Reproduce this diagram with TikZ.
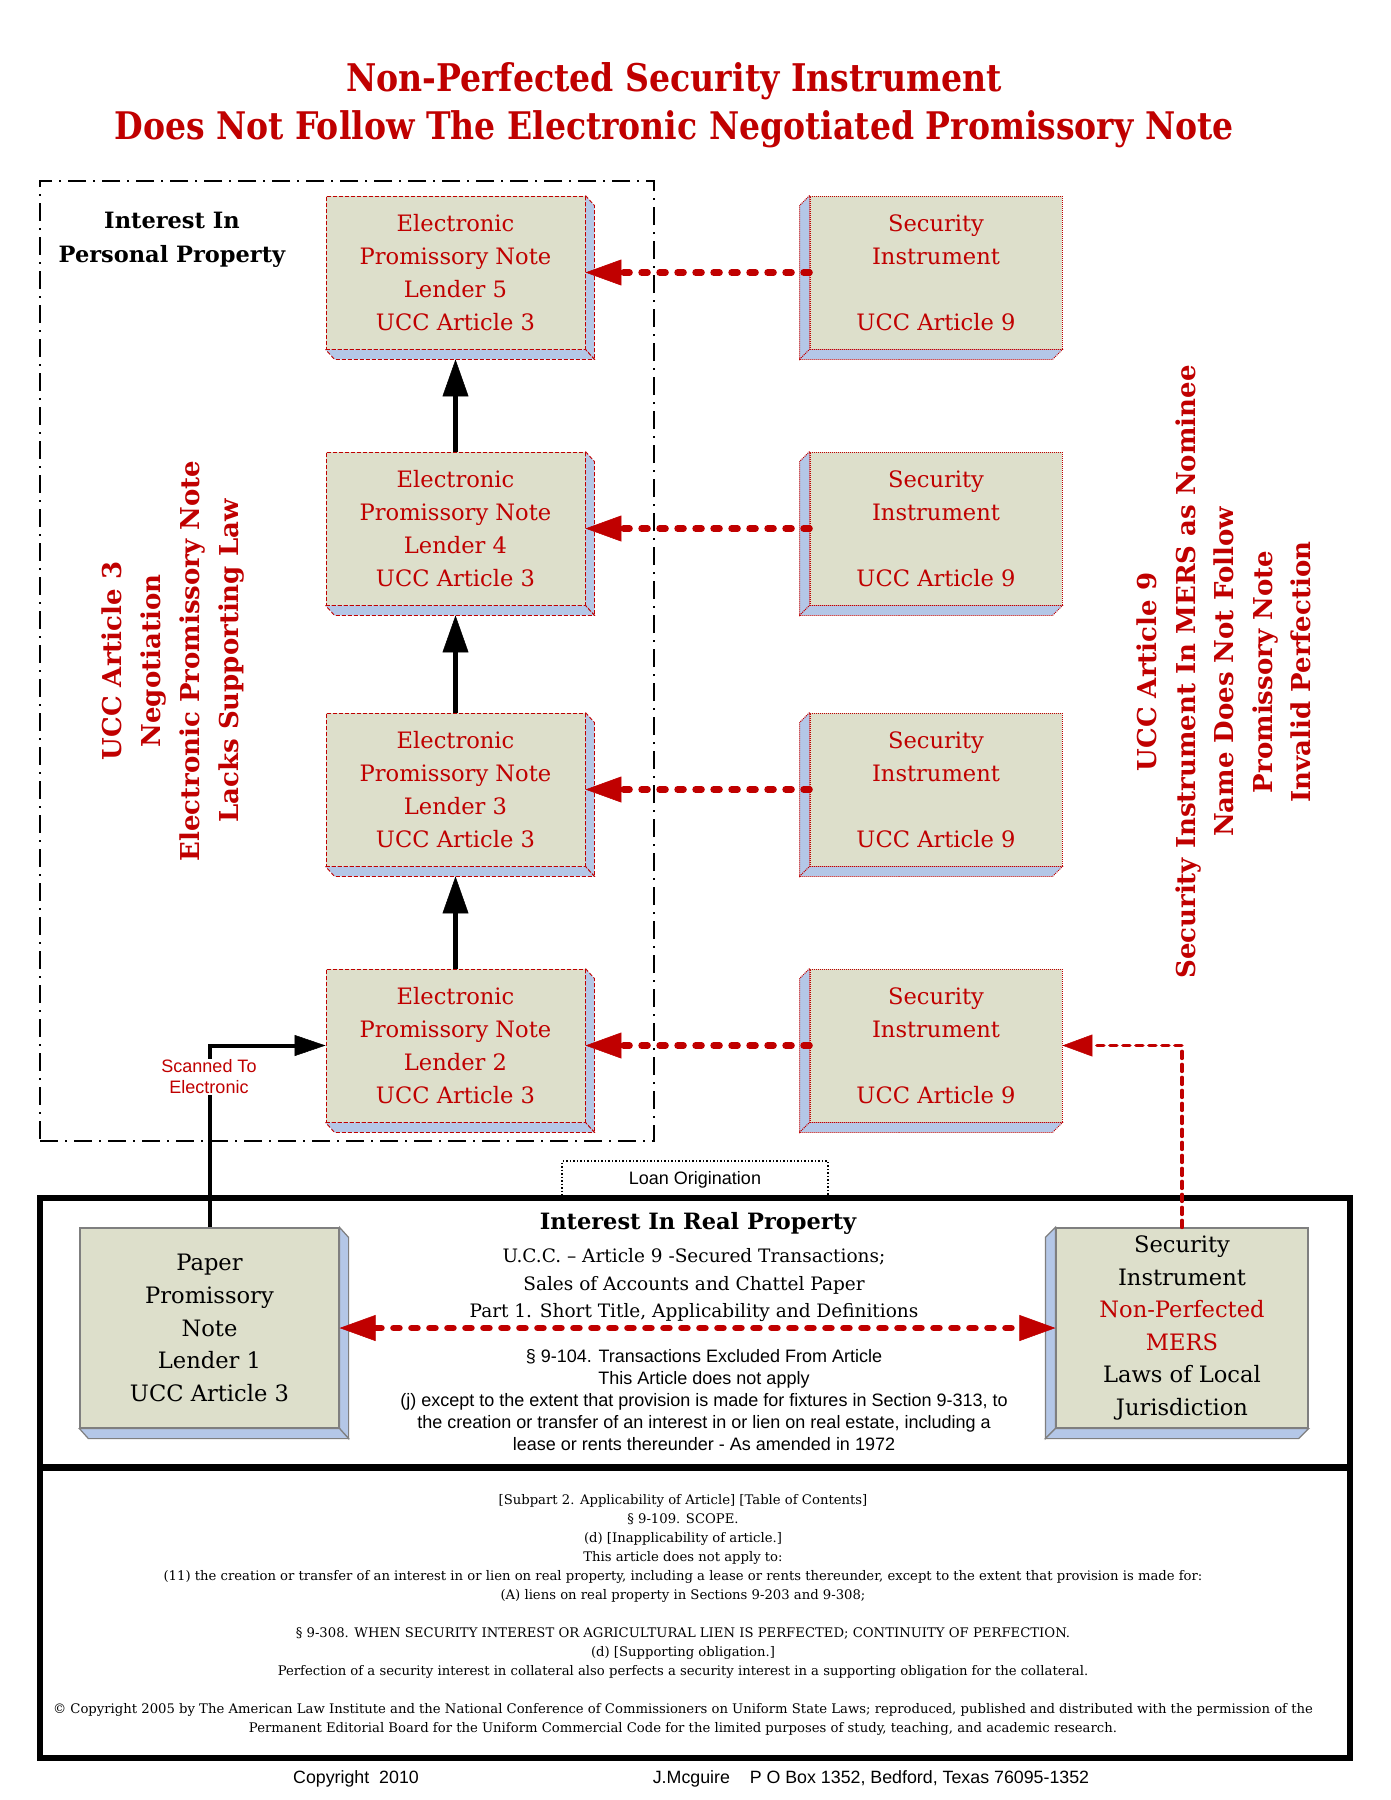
\documentclass[tikz,border=0pt]{standalone}
\usepackage{graphicx}
\usepackage{fontspec}
\setmainfont{DejaVu Serif}
\newfontfamily\sansf{Liberation Sans}
\usetikzlibrary{arrows.meta,calc}
\definecolor{dred}{HTML}{C00000}
\definecolor{boxfill}{HTML}{DDDFCB}
\definecolor{panelblue}{HTML}{B4C7E7}
\definecolor{edgegray}{HTML}{7F7F7F}
\pgfdeclarelayer{bg}
\pgfdeclarelayer{panel}
\pgfsetlayers{bg,panel,main}
\newcommand\fs[2]{\fontsize{#1}{#2}\selectfont}
% 3D side panels: right/bottom (depth +dx) or left/bottom (depth -dx)
\newcommand\panelR[2]{%
  \begin{pgfonlayer}{panel}
    \filldraw[#2] (#1.north east) -- ++(9,10) -- ($(#1.south east)+(9,10)$) -- (#1.south east) -- cycle;
    \filldraw[#2] (#1.south west) -- (#1.south east) -- ++(9,10) -- ($(#1.south west)+(9,10)$) -- cycle;
  \end{pgfonlayer}}
\newcommand\panelL[2]{%
  \begin{pgfonlayer}{panel}
    \filldraw[#2] (#1.north west) -- ++(-10,10) -- ($(#1.south west)+(-10,10)$) -- (#1.south west) -- cycle;
    \filldraw[#2] (#1.south west) -- (#1.south east) -- ++(-10,10) -- ($(#1.south west)+(-10,10)$) -- cycle;
  \end{pgfonlayer}}
\begin{document}
\begin{tikzpicture}[x=1pt,y=-1pt,
  boxtext/.style={font=\fs{22.6}{33}, align=center, inner sep=0pt},
  enote/.style={boxtext, draw=dred, line width=0.9pt, dash pattern=on 4pt off 2pt,
    fill=boxfill, minimum width=259pt, minimum height=153pt, text=dred},
  secbox/.style={boxtext, draw=dred, line width=0.9pt, dash pattern=on 1pt off 1pt,
    fill=boxfill, minimum width=252pt, minimum height=153pt, text=dred},
  epanel/.style={fill=panelblue, draw=dred, line width=0.9pt, dash pattern=on 4pt off 2pt},
  spanel/.style={fill=panelblue, draw=dred, line width=0.9pt, dash pattern=on 1pt off 1pt},
  realnote/.style={font=\fs{22.6}{32.6}, align=center, inner sep=0pt, draw=edgegray,
    line width=1.2pt, fill=boxfill, minimum height=200pt, text=black},
  rpanel/.style={fill=panelblue, draw=edgegray, line width=1.2pt},
  reddot/.style={draw=dred, line width=6.5pt, line cap=round, dash pattern=on 6pt off 12pt},
  redhead/.style={-{Triangle[length=36pt,width=26pt,line width=0.5pt]}},
  blackarrow/.style={draw=black, line width=4.5pt, -{Triangle[length=37pt,width=26pt,line width=0.5pt]}},
  scanarrow/.style={draw=black, line width=4pt, -{Triangle[length=31pt,width=21pt,line width=0.5pt]}},
  thinred/.style={draw=dred, line width=3.5pt, line cap=round, dash pattern=on 7pt off 6pt,
    -{Triangle[length=30pt,width=22pt,line width=0.5pt]}},
  dashdot/.style={draw=black, line width=2.5pt, dash pattern=on 18pt off 7pt on 2pt off 7pt},
  bigbox/.style={draw=black, line width=6pt, minimum width=1310pt},
  rottext/.style={rotate=90, font=\bfseries\fs{26}{39}, text=dred, align=center}
]
\begin{pgfonlayer}{bg}
  \fill[white] (0,0) rectangle (1391,1800);
\end{pgfonlayer}
\useasboundingbox (0,0) rectangle (1391,1800);

% Title
\node[anchor=base, text=dred, inner sep=0pt] (title1) at (674,91)
  {\scalebox{1}[1.15]{\resizebox{656pt}{!}{\bfseries Non-Perfected Security Instrument}}};
\node[anchor=base, text=dred, inner sep=0pt] (title2) at (674,139)
  {\scalebox{1}[1.15]{\resizebox{1119pt}{!}{\bfseries Does Not Follow The Electronic Negotiated Promissory Note}}};

% Personal property region
\node[dashdot, minimum width=614pt, minimum height=960pt] (pers) at (347,661) {};
\node[font=\bfseries\fs{22.5}{34}, align=center] (perslbl) at (172,240) {Interest In\\Personal Property};
\node[rottext] (lrot) at (173,661)
  {UCC Article 3\\Negotiation\\Electronic Promissory Note\\Lacks Supporting Law};
\node[rottext, font=\bfseries\fs{26}{38.5}] (rrot) at (1224,672)
  {UCC Article 9\\Security Instrument In MERS as Nominee\\Name Does Not Follow\\Promissory Note\\Invalid Perfection};

% Electronic promissory notes
\node[enote] (e5) at (455.5,272.5) {Electronic\\Promissory Note\\Lender 5\\UCC Article 3};
\node[enote] (e4) at (455.5,528.5) {Electronic\\Promissory Note\\Lender 4\\UCC Article 3};
\node[enote] (e3) at (455.5,789.5) {Electronic\\Promissory Note\\Lender 3\\UCC Article 3};
\node[enote] (e2) at (455.5,1045.5) {Electronic\\Promissory Note\\Lender 2\\UCC Article 3};
\panelR{e5}{epanel}\panelR{e4}{epanel}\panelR{e3}{epanel}\panelR{e2}{epanel}

% Security instruments
\node[secbox] (s5) at (936,272.5) {Security\\Instrument\\[33pt]UCC Article 9};
\node[secbox] (s4) at (936,528.5) {Security\\Instrument\\[33pt]UCC Article 9};
\node[secbox] (s3) at (936,789.5) {Security\\Instrument\\[33pt]UCC Article 9};
\node[secbox] (s2) at (936,1045.5) {Security\\Instrument\\[33pt]UCC Article 9};
\panelL{s5}{spanel}\panelL{s4}{spanel}\panelL{s3}{spanel}\panelL{s2}{spanel}

% Negotiation arrows
\draw[blackarrow] (e4.north) -- ([yshift=-10pt]e5.south);
\draw[blackarrow] (e3.north) -- ([yshift=-10pt]e4.south);
\draw[blackarrow] (e2.north) -- ([yshift=-10pt]e3.south);

% Security instrument arrows
\draw[reddot, redhead] (s5.west) -- (e5.east);
\draw[reddot, redhead] (s4.west) -- (e4.east);
\draw[reddot, redhead] (s3.west) -- (e3.east);
\draw[reddot, redhead] (s2.west) -- (e2.east);

% Loan origination
\node[draw=black, line width=1.2pt, dash pattern=on 1.5pt off 2pt, minimum width=266pt,
  minimum height=37pt, font=\sansf\fs{18}{21}] (loan) at (695,1179.5) {Loan Origination};

% Big boxes
\node[bigbox, minimum height=269pt] (real) at (695,1332.5) {};
\node[bigbox, minimum height=290pt] (law) at (695,1612.5) {};

% Real property boxes
\node[realnote, minimum width=259pt] (paper) at (209.5,1328)
  {Paper\\Promissory\\Note\\Lender 1\\UCC Article 3};
\panelR{paper}{rpanel}
\node[realnote, minimum width=252pt] (sec1) at (1182,1328)
  {Security\\Instrument\\\textcolor{dred}{Non-Perfected}\\\textcolor{dred}{MERS}\\Laws of Local\\Jurisdiction};
\panelL{sec1}{rpanel}

% Scanned to electronic
\draw[scanarrow] (paper.north) |- (e2.west);
\node[font=\sansf\fs{18}{21}, text=dred, fill=white, align=center, inner sep=1pt] (scanlbl)
  at (209,1077) {Scanned To\\Electronic};

% Double arrow and MERS link
\draw[reddot, {Triangle[length=36pt,width=26pt,line width=0.5pt]}-{Triangle[length=36pt,width=26pt,line width=0.5pt]}]
  (paper.east) -- (sec1.west);
\draw[thinred] (sec1.north) |- (s2.east);

% Real property texts
\node[font=\bfseries\fs{22.5}{30}] (realttl) at (698,1223) {Interest In Real Property};
\node[font=\fs{18.5}{27.5}, align=center] (ucc9) at (694,1285.5)
  {U.C.C. – Article 9 -Secured Transactions;\\Sales of Accounts and Chattel Paper\\Part 1. Short Title, Applicability and Definitions};
\node[font=\sansf\fs{18}{22}, align=center] (s9104) at (704,1400)
  {§ 9-104. Transactions Excluded From Article\\This Article does not apply\\(j) except to the extent that provision is made for fixtures in Section 9-313, to\\the creation or transfer of an interest in or lien on real estate, including a\\lease or rents thereunder - As amended in 1972};

% Law text
\node[font=\fs{13.2}{19}, align=center] (lawtxt) at (683,1614.5)
  {[Subpart 2. Applicability of Article] [Table of Contents]\\
   § 9-109. SCOPE.\\
   (d) [Inapplicability of article.]\\
   This article does not apply to:\\
   (11) the creation or transfer of an interest in or lien on real property, including a lease or rents thereunder, except to the extent that provision is made for:\\
   (A) liens on real property in Sections 9-203 and 9-308;\\[19pt]
   § 9-308. WHEN SECURITY INTEREST OR AGRICULTURAL LIEN IS PERFECTED; CONTINUITY OF PERFECTION.\\
   (d) [Supporting obligation.]\\
   Perfection of a security interest in collateral also perfects a security interest in a supporting obligation for the collateral.\\[19pt]
   © Copyright 2005 by The American Law Institute and the National Conference of Commissioners on Uniform State Laws; reproduced, published and distributed with the permission of the\\
   Permanent Editorial Board for the Uniform Commercial Code for the limited purposes of study, teaching, and academic research.};

% Footer
\node[font=\sansf\fs{17.8}{20}] (foot1) at (356,1779) {Copyright\ \ 2010};
\node[font=\sansf\fs{17.8}{20}] (foot2) at (871,1779) {J.Mcguire\ \ \ \ P O Box 1352, Bedford, Texas 76095-1352};
\end{tikzpicture}
\end{document}
